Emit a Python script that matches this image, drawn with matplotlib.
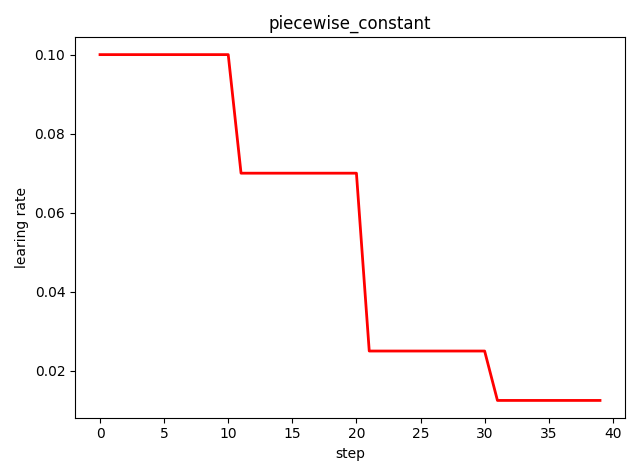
import matplotlib
matplotlib.use('Agg')
import matplotlib.pyplot as plt

steps = list(range(40))
lr = [0.1] * 11 + [0.07] * 10 + [0.025] * 10 + [0.0125] * 9
# values: 0..10 -> 0.1, 11..20 -> 0.07, 21..30 -> 0.025, 31..39 -> 0.0125

fig, ax = plt.subplots(figsize=(6.4, 4.76), dpi=100)
ax.plot(steps, lr, color='red', linewidth=2)
ax.set_title('piecewise_constant')
ax.set_xlabel('step')
ax.set_ylabel('learing rate')
fig.tight_layout()
fig.savefig('out.png')
